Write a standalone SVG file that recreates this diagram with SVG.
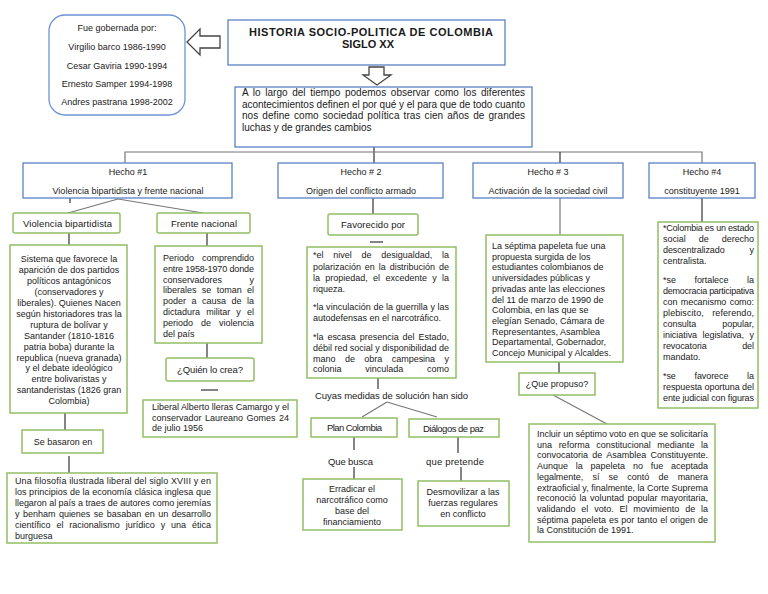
<svg xmlns="http://www.w3.org/2000/svg" width="768" height="594" viewBox="0 0 768 594">
<style>
text { font-family: "Liberation Sans", Arial, sans-serif; font-size: 9px; fill: #1a1a1a; }
.c { text-anchor: middle; }
.lab { font-size: 9.5px; }
.ttl { font-size: 11px; font-weight: bold; }
.intro { font-size: 10px; }
.bb { fill: #fff; stroke: #5a80c4; stroke-width: 1.3; }
.gb { fill: #fff; stroke: #92bf66; stroke-width: 1.5; }
.ln { stroke: #333; stroke-width: 1.2; fill: none; }
.lg { stroke: #777; stroke-width: 1.2; fill: none; }
.arr { fill: #fff; stroke: #444; stroke-width: 1.3; }
</style>
<rect width="768" height="594" fill="#fff"/>

<g id="connectors">
  <line class="ln" x1="374" y1="147" x2="374" y2="163"/>
  <polyline class="lg" points="125,163 125,152 702,152 702,163"/>
  <line class="ln" x1="560" y1="152" x2="560" y2="163"/>
  <line class="ln" x1="70" y1="198" x2="70" y2="203"/>
  <line class="lg" x1="118" y1="199" x2="68" y2="213"/>
  <line class="lg" x1="118" y1="199" x2="203" y2="213"/>
  <line class="ln" x1="69" y1="233" x2="69" y2="245"/>
  <line class="ln" x1="207" y1="233" x2="207" y2="246"/>
  <line class="ln" x1="207" y1="343" x2="207" y2="358"/>
  <line class="ln" x1="201" y1="390" x2="218" y2="390"/>
  <line class="ln" x1="65" y1="413" x2="65" y2="430"/>
  <line class="ln" x1="69" y1="456" x2="69" y2="473"/>
  <line class="ln" x1="373" y1="198" x2="373" y2="214"/>
  <line class="ln" x1="370" y1="242" x2="383" y2="242"/>
  <line class="ln" x1="378" y1="378" x2="378" y2="389"/>
  <line class="lg" x1="387" y1="402" x2="362" y2="417"/>
  <line class="lg" x1="387" y1="402" x2="437" y2="417"/>
  <line class="ln" x1="354" y1="437" x2="354" y2="450"/>
  <line class="ln" x1="354" y1="467" x2="354" y2="479"/>
  <line class="ln" x1="458" y1="437" x2="458" y2="453"/>
  <line class="ln" x1="461" y1="467" x2="461" y2="481"/>
  <line class="lg" x1="560" y1="198" x2="560" y2="235"/>
  <line class="ln" x1="559" y1="362" x2="559" y2="373"/>
  <line class="lg" x1="553" y1="395" x2="607" y2="424"/>
  <line class="ln" x1="702" y1="198" x2="702" y2="222"/>
</g>

<g id="gov">
  <rect class="bb" x="49" y="15" width="136" height="100" rx="16" style="stroke:#6f93d6"/>
  <text class="c" x="117" y="31">Fue gobernada por:</text>
  <text class="c" x="117" y="50">Virgilio barco 1986-1990</text>
  <text class="c" x="117" y="69">Cesar Gaviria 1990-1994</text>
  <text class="c" x="117" y="87">Ernesto Samper 1994-1998</text>
  <text class="c" x="117" y="105">Andres pastrana 1998-2002</text>
</g>

<g id="arrow-left">
  <polygon class="arr" points="187,42 200,29 200,36 220,36 220,48 200,48 200,55"/>
</g>

<g id="title">
  <rect class="bb" x="228" y="20" width="277" height="45"/>
  <text class="ttl" x="249" y="36" textLength="244" lengthAdjust="spacing">HISTORIA SOCIO-POLITICA DE  COLOMBIA</text>
  <text class="ttl c" x="368" y="48">SIGLO XX</text>
</g>

<g id="arrow-down">
  <polygon class="arr" points="369,67 384,67 384,75 391,75 377,85 363,75 369,75"/>
</g>

<g id="intro">
  <rect class="bb" x="235" y="87" width="297" height="60"/>
  <text class="intro" x="242" y="96" word-spacing="1.9" textLength="283" lengthAdjust="spacing">A lo largo del tiempo podemos observar como los diferentes</text>
  <text class="intro" x="242" y="107.5" textLength="283" lengthAdjust="spacing">acontecimientos definen el  por qué y el para que de todo cuanto</text>
  <text class="intro" x="242" y="119" word-spacing="1.2" textLength="283" lengthAdjust="spacing">nos define como sociedad política tras cien años de  grandes</text>
  <text class="intro" x="242" y="130.5">luchas y de grandes cambios</text>
</g>

<g id="h1">
  <rect class="bb" x="23" y="163" width="209" height="35"/>
  <text class="c" x="128" y="175">Hecho #1</text>
  <text class="c" x="128" y="194">Violencia bipartidista  y frente nacional</text>
</g>
<g id="h2">
  <rect class="bb" x="278" y="163" width="165" height="35"/>
  <text class="c" x="361" y="175">Hecho # 2</text>
  <text class="c" x="361" y="194">Origen del conflicto armado</text>
</g>
<g id="h3">
  <rect class="bb" x="473" y="163" width="150" height="35"/>
  <text class="c" x="548" y="175">Hecho # 3</text>
  <text class="c" x="548" y="194">Activación de la sociedad civil</text>
</g>
<g id="h4">
  <rect class="bb" x="649" y="163" width="106" height="35"/>
  <text class="c" x="702" y="175">Hecho #4</text>
  <text class="c" x="702" y="194">constituyente 1991</text>
</g>

<g id="violencia">
  <rect class="gb" x="13" y="213" width="107" height="20" rx="2"/>
  <text class="lab" x="23" y="226.5" textLength="89" lengthAdjust="spacing">Violencia bipartidista</text>
</g>
<g id="frente">
  <rect class="gb" x="157" y="213" width="93" height="20" rx="2"/>
  <text class="lab" x="171" y="226.5" textLength="66" lengthAdjust="spacing">Frente nacional</text>
</g>

<g id="violencia-text">
  <rect class="gb" x="10" y="245" width="117" height="168"/>
  <text class="c" x="69" y="262">Sistema que favorece  la</text>
  <text class="c" x="69" y="273">aparición de dos partidos</text>
  <text class="c" x="69" y="284">políticos antagónicos</text>
  <text class="c" x="69" y="295">(conservadores y</text>
  <text class="c" x="69" y="306">liberales). Quienes Nacen</text>
  <text class="c" x="69" y="317">según historiadores tras la</text>
  <text class="c" x="69" y="327.5">ruptura de bolívar y</text>
  <text class="c" x="69" y="338.5">Santander (1810-1816</text>
  <text class="c" x="69" y="349.5">patria boba) durante la</text>
  <text class="c" x="69" y="360.5">republica (nueva granada)</text>
  <text class="c" x="69" y="371">y el debate ideológico</text>
  <text class="c" x="69" y="382">entre bolivaristas y</text>
  <text class="c" x="69" y="393">santanderistas (1826 gran</text>
  <text class="c" x="69" y="404">Colombia)</text>
</g>

<g id="frente-text">
  <rect class="gb" x="155" y="246" width="107" height="97"/>
  <text x="163" y="261" word-spacing="5.5" textLength="91" lengthAdjust="spacing">Periodo comprendido</text>
  <text x="163" y="271.8" textLength="91" lengthAdjust="spacing">entre 1958-1970 donde</text>
  <text x="163" y="282.6" word-spacing="25" textLength="91" lengthAdjust="spacing">conservadores y</text>
  <text x="163" y="293.4" word-spacing="2.8" textLength="91" lengthAdjust="spacing">liberales se toman el</text>
  <text x="163" y="304.2" word-spacing="3" textLength="91" lengthAdjust="spacing">poder a causa de la</text>
  <text x="163" y="315" word-spacing="3.7" textLength="91" lengthAdjust="spacing">dictadura militar y el</text>
  <text x="163" y="325.8" word-spacing="5.5" textLength="91" lengthAdjust="spacing">periodo de violencia</text>
  <text x="163" y="336.6">del país</text>
</g>

<g id="quien">
  <rect class="gb" x="166" y="358" width="88" height="23" rx="2"/>
  <text class="lab" x="177" y="373" textLength="66" lengthAdjust="spacing">¿Quién lo crea?</text>
</g>

<g id="liberal">
  <rect class="gb" x="143" y="400" width="154" height="37"/>
  <text x="152" y="410" textLength="137" lengthAdjust="spacing">Liberal Alberto lleras Camargo y el</text>
  <text x="152" y="420.5" word-spacing="1" textLength="137" lengthAdjust="spacing">conservador Laureano Gomes 24</text>
  <text x="152" y="431">de julio 1956</text>
</g>

<g id="basaron">
  <rect class="gb" x="22" y="430" width="81" height="23"/>
  <text class="c" x="63" y="444.5">Se basaron en</text>
</g>

<g id="filosofia">
  <rect class="gb" x="7" y="473" width="210" height="70"/>
  <text x="15" y="484" textLength="196" lengthAdjust="spacing">Una filosofía ilustrada liberal del siglo XVIII  y en</text>
  <text x="15" y="495" textLength="196" lengthAdjust="spacing">los principios de la economía clásica inglesa que</text>
  <text x="15" y="505.5" textLength="196" lengthAdjust="spacing">llegaron al país a traes de autores como jeremías</text>
  <text x="15" y="516.5" word-spacing="1" textLength="196" lengthAdjust="spacing">y benham quienes se basaban en un desarrollo</text>
  <text x="15" y="527.5" word-spacing="3.4" textLength="196" lengthAdjust="spacing">científico el racionalismo jurídico y una ética</text>
  <text x="15" y="538.5">burguesa</text>
</g>

<g id="favorecido">
  <rect class="gb" x="328" y="214" width="90" height="21" rx="2"/>
  <text class="lab" x="341" y="228" textLength="64" lengthAdjust="spacing">Favorecido por</text>
</g>

<g id="favorecido-text">
  <rect class="gb" x="307" y="247" width="149" height="131"/>
  <text x="313" y="258" word-spacing="7.2" textLength="136" lengthAdjust="spacing">*el nivel de desigualdad, la</text>
  <text x="313" y="270" word-spacing="1.4" textLength="136" lengthAdjust="spacing">polarización en la distribución de</text>
  <text x="313" y="281" word-spacing="2.8" textLength="136" lengthAdjust="spacing">la propiedad, el excedente y la</text>
  <text x="313" y="292">riqueza.</text>
  <text x="313" y="310" textLength="136" lengthAdjust="spacing">*la vinculación de la guerrilla y las</text>
  <text x="313" y="321">autodefensas en el narcotráfico.</text>
  <text x="313" y="340" word-spacing="1.4" textLength="136" lengthAdjust="spacing">*la escasa presencia del Estado,</text>
  <text x="313" y="351" textLength="136" lengthAdjust="spacing">débil red social y disponibilidad de</text>
  <text x="313" y="361.5" word-spacing="6.9" textLength="136" lengthAdjust="spacing">mano de obra campesina y</text>
  <text x="313" y="372" word-spacing="21.2" textLength="136" lengthAdjust="spacing">colonia vinculada como</text>
</g>

<g id="cuyas">
  <text class="lab" x="315" y="398.5" textLength="153" lengthAdjust="spacing">Cuyas medidas de solución han sido</text>
</g>

<g id="plan">
  <rect class="gb" x="311" y="418" width="86" height="19"/>
  <text class="lab" x="327" y="431" textLength="55" lengthAdjust="spacing">Plan Colombia</text>
</g>
<g id="dialogos">
  <rect class="gb" x="409" y="419" width="90" height="18"/>
  <text class="lab" x="423" y="431.5" textLength="61" lengthAdjust="spacing">Diálogos de paz</text>
</g>

<g id="quebusca">
  <text class="lab" x="328" y="464.5" textLength="45" lengthAdjust="spacing">Que busca</text>
</g>
<g id="quepretende">
  <text class="lab" x="426" y="464.5" textLength="58" lengthAdjust="spacing">que pretende</text>
</g>

<g id="erradicar">
  <rect class="gb" x="303" y="479" width="99" height="51"/>
  <text class="c" x="352" y="492">Erradicar el</text>
  <text class="c" x="352" y="503">narcotráfico como</text>
  <text class="c" x="352" y="513.5">base del</text>
  <text class="c" x="352" y="524.5">financiamiento</text>
</g>

<g id="desmovilizar">
  <rect class="gb" x="418" y="481" width="91" height="45"/>
  <text class="c" x="463" y="495">Desmovilizar a las</text>
  <text class="c" x="463" y="506">fuerzas regulares</text>
  <text class="c" x="463" y="517">en conflicto</text>
</g>

<g id="septima">
  <rect class="gb" x="486" y="235" width="137" height="127"/>
  <text x="492" y="249">La séptima papeleta fue una</text>
  <text x="492" y="259.7">propuesta surgida de los</text>
  <text x="492" y="270.4">estudiantes colombianos de</text>
  <text x="492" y="281.1">universidades públicas y</text>
  <text x="492" y="291.8">privadas  ante las elecciones</text>
  <text x="492" y="302.5">del 11 de marzo de 1990 de</text>
  <text x="492" y="313.2">Colombia, en las que se</text>
  <text x="492" y="323.9">elegían Senado, Cámara de</text>
  <text x="492" y="334.6">Representantes, Asamblea</text>
  <text x="492" y="345.3">Departamental, Gobernador,</text>
  <text x="492" y="356">Concejo Municipal y Alcaldes.</text>
</g>

<g id="propuso">
  <rect class="gb" x="519" y="373" width="76" height="22"/>
  <text class="c" x="557" y="387">¿Que propuso?</text>
</g>

<g id="incluir">
  <rect class="gb" x="529" y="424" width="186" height="118"/>
  <text x="537" y="437" textLength="171" lengthAdjust="spacing">Incluir un séptimo voto en que se solicitaría</text>
  <text x="537" y="447.7" word-spacing="4.1" textLength="171" lengthAdjust="spacing">una reforma constitucional mediante la</text>
  <text x="537" y="458.4" word-spacing="1.9" textLength="171" lengthAdjust="spacing">convocatoria de Asamblea Constituyente.</text>
  <text x="537" y="469.1" word-spacing="5.3" textLength="171" lengthAdjust="spacing">Aunque la papeleta no fue aceptada</text>
  <text x="537" y="479.8" word-spacing="6.8" textLength="171" lengthAdjust="spacing">legalmente, sí se contó de manera</text>
  <text x="537" y="490.5" textLength="171" lengthAdjust="spacing">extraoficial y, finalmente, la Corte Suprema</text>
  <text x="537" y="501.2" word-spacing="1" textLength="171" lengthAdjust="spacing">reconoció la voluntad popular mayoritaria,</text>
  <text x="537" y="511.9" word-spacing="3.3" textLength="171" lengthAdjust="spacing">validando el voto. El movimiento de la</text>
  <text x="537" y="522.6" word-spacing="0.4" textLength="171" lengthAdjust="spacing">séptima papeleta es por tanto el origen de</text>
  <text x="537" y="533.3">la Constitución de 1991.</text>
</g>

<g id="constituyente-text">
  <rect class="gb" x="658" y="222" width="100" height="186"/>
  <text x="663" y="231" textLength="91" lengthAdjust="spacing">*Colombia es un estado</text>
  <text x="663" y="242" word-spacing="10.7" textLength="91" lengthAdjust="spacing">social de derecho</text>
  <text x="663" y="253" word-spacing="22.5" textLength="91" lengthAdjust="spacing">descentralizado y</text>
  <text x="663" y="264">centralista.</text>
  <text x="663" y="283" word-spacing="16.2" textLength="91" lengthAdjust="spacing">*se fortalece la</text>
  <text x="663" y="294" textLength="91" lengthAdjust="spacing">democracia participativa</text>
  <text x="663" y="305" word-spacing="1" textLength="91" lengthAdjust="spacing">con mecanismo como:</text>
  <text x="663" y="316" word-spacing="5.9" textLength="91" lengthAdjust="spacing">plebiscito, referendo,</text>
  <text x="663" y="327" word-spacing="23.5" textLength="91" lengthAdjust="spacing">consulta popular,</text>
  <text x="663" y="338" word-spacing="3" textLength="91" lengthAdjust="spacing">iniciativa legislativa, y</text>
  <text x="663" y="349" word-spacing="33" textLength="91" lengthAdjust="spacing">revocatoria del</text>
  <text x="663" y="360">mandato.</text>
  <text x="663" y="379" word-spacing="16.2" textLength="91" lengthAdjust="spacing">*se favorece la</text>
  <text x="663" y="390" textLength="91" lengthAdjust="spacing">respuesta oportuna del</text>
  <text x="663" y="401" textLength="91" lengthAdjust="spacing">ente judicial con figuras</text>
</g>
</svg>
